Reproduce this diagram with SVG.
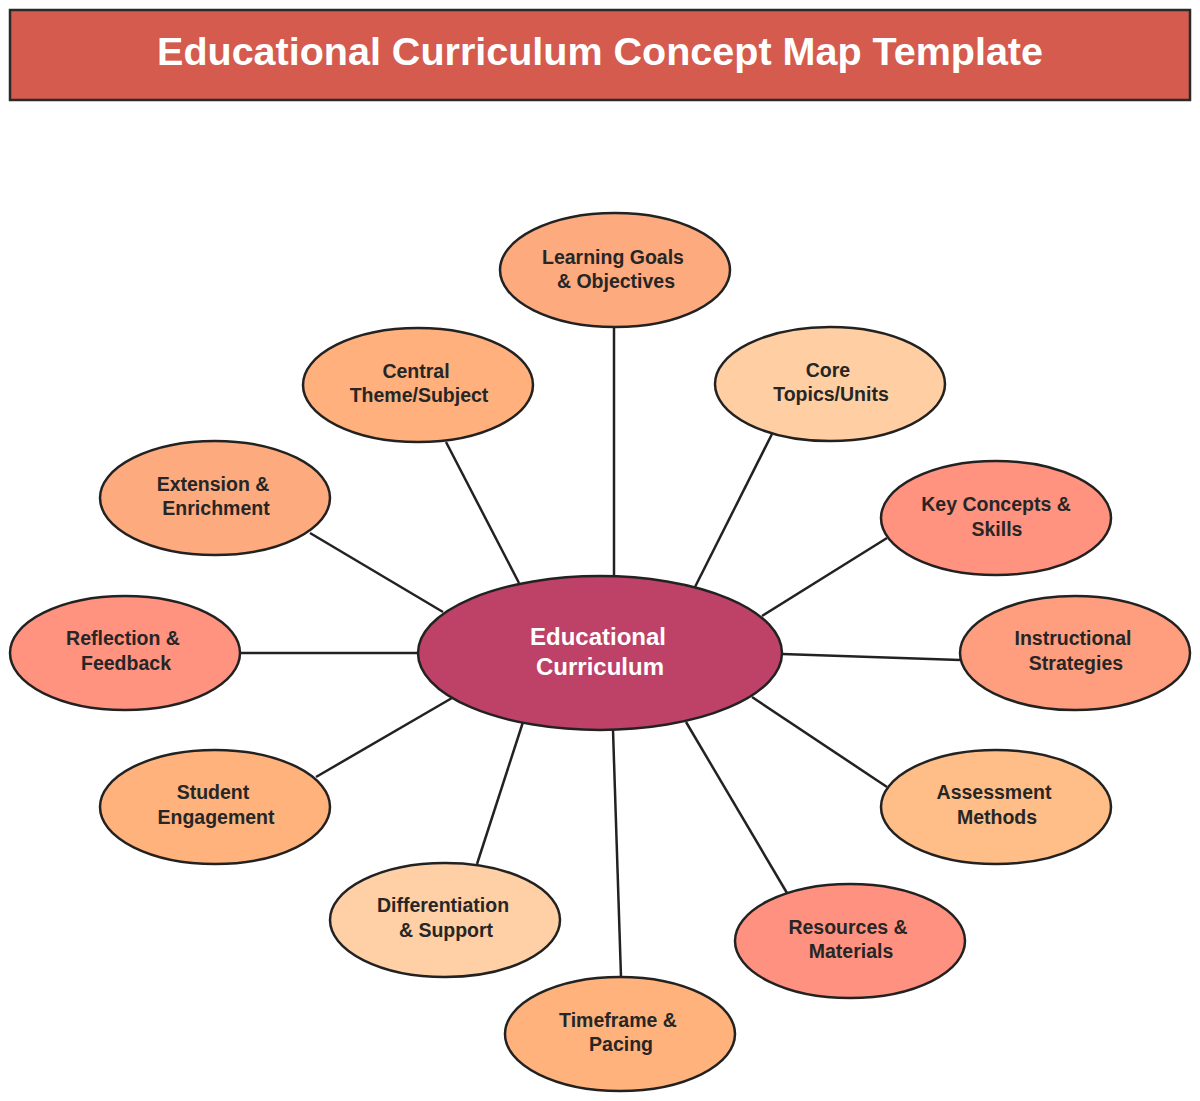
<svg xmlns="http://www.w3.org/2000/svg" width="1200" height="1101" viewBox="0 0 1200 1101">
<style>
.node{stroke:#222;stroke-width:2.5}
.lbl{font-family:"Liberation Sans",Arial,sans-serif;font-weight:bold;font-size:19.5px;fill:#262626;text-anchor:middle}
.clbl{font-family:"Liberation Sans",Arial,sans-serif;font-weight:bold;font-size:24px;fill:#ffffff;text-anchor:middle}
.conn line{stroke:#222;stroke-width:2.5}
</style>
<rect x="0" y="0" width="1200" height="1101" fill="#ffffff"/>
<g id="title">
<rect x="10" y="10" width="1180" height="90" fill="#D45B4D" stroke="#2a2a2a" stroke-width="2.5"/>
<text x="600" y="65" font-family="'Liberation Sans',Arial,sans-serif" font-weight="bold" font-size="39.5" fill="#ffffff" text-anchor="middle">Educational Curriculum Concept Map Template</text>
</g>
<g id="connectors" class="conn">
<line x1="614" y1="327" x2="614" y2="577"/>
<line x1="446" y1="442" x2="519" y2="583"/>
<line x1="772" y1="434" x2="695" y2="587"/>
<line x1="310" y1="533" x2="443" y2="612"/>
<line x1="887" y1="538" x2="762" y2="616"/>
<line x1="240" y1="653" x2="418" y2="653"/>
<line x1="960" y1="660" x2="782" y2="654"/>
<line x1="316" y1="777" x2="452" y2="698"/>
<line x1="887" y1="787" x2="752" y2="697"/>
<line x1="477" y1="864" x2="523" y2="722"/>
<line x1="787" y1="893" x2="686" y2="722"/>
<line x1="621" y1="977" x2="613" y2="730"/>
</g>
<g id="center">
<ellipse class="node" cx="600" cy="653" rx="182" ry="77" fill="#BE4168"/>
<text class="clbl" x="598" y="645">Educational</text>
<text class="clbl" x="600" y="675">Curriculum</text>
</g>
<g id="learning-goals">
<ellipse class="node" cx="615" cy="270" rx="115" ry="57" fill="#FCAA7E"/>
<text class="lbl" x="613" y="264">Learning Goals</text>
<text class="lbl" x="616" y="288">&amp; Objectives</text>
</g>
<g id="central-theme">
<ellipse class="node" cx="418" cy="385" rx="115" ry="57" fill="#FFB07C"/>
<text class="lbl" x="416" y="378">Central</text>
<text class="lbl" x="419" y="402">Theme/Subject</text>
</g>
<g id="core-topics">
<ellipse class="node" cx="830" cy="384" rx="115" ry="57" fill="#FFCFA3"/>
<text class="lbl" x="828" y="377">Core</text>
<text class="lbl" x="831" y="401">Topics/Units</text>
</g>
<g id="extension">
<ellipse class="node" cx="215" cy="498" rx="115" ry="57" fill="#FCAA7E"/>
<text class="lbl" x="213" y="491">Extension &amp;</text>
<text class="lbl" x="216" y="515">Enrichment</text>
</g>
<g id="key-concepts">
<ellipse class="node" cx="996" cy="518" rx="115" ry="57" fill="#FF9380"/>
<text class="lbl" x="996" y="511">Key Concepts &amp;</text>
<text class="lbl" x="997" y="536">Skills</text>
</g>
<g id="reflection">
<ellipse class="node" cx="125" cy="653" rx="115" ry="57" fill="#FF9380"/>
<text class="lbl" x="123" y="645">Reflection &amp;</text>
<text class="lbl" x="126" y="670">Feedback</text>
</g>
<g id="instructional">
<ellipse class="node" cx="1075" cy="653" rx="115" ry="57" fill="#FF9E7E"/>
<text class="lbl" x="1073" y="645">Instructional</text>
<text class="lbl" x="1076" y="670">Strategies</text>
</g>
<g id="student-engagement">
<ellipse class="node" cx="215" cy="807" rx="115" ry="57" fill="#FFB27C"/>
<text class="lbl" x="213" y="799">Student</text>
<text class="lbl" x="216" y="824">Engagement</text>
</g>
<g id="assessment">
<ellipse class="node" cx="996" cy="807" rx="115" ry="57" fill="#FFBE87"/>
<text class="lbl" x="994" y="799">Assessment</text>
<text class="lbl" x="997" y="824">Methods</text>
</g>
<g id="differentiation">
<ellipse class="node" cx="445" cy="920" rx="115" ry="57" fill="#FFD0A6"/>
<text class="lbl" x="443" y="912">Differentiation</text>
<text class="lbl" x="446" y="937">&amp; Support</text>
</g>
<g id="resources">
<ellipse class="node" cx="850" cy="941" rx="115" ry="57" fill="#FF9180"/>
<text class="lbl" x="848" y="934">Resources &amp;</text>
<text class="lbl" x="851" y="958">Materials</text>
</g>
<g id="timeframe">
<ellipse class="node" cx="620" cy="1034" rx="115" ry="57" fill="#FFB27C"/>
<text class="lbl" x="618" y="1027">Timeframe &amp;</text>
<text class="lbl" x="621" y="1051">Pacing</text>
</g>
</svg>
